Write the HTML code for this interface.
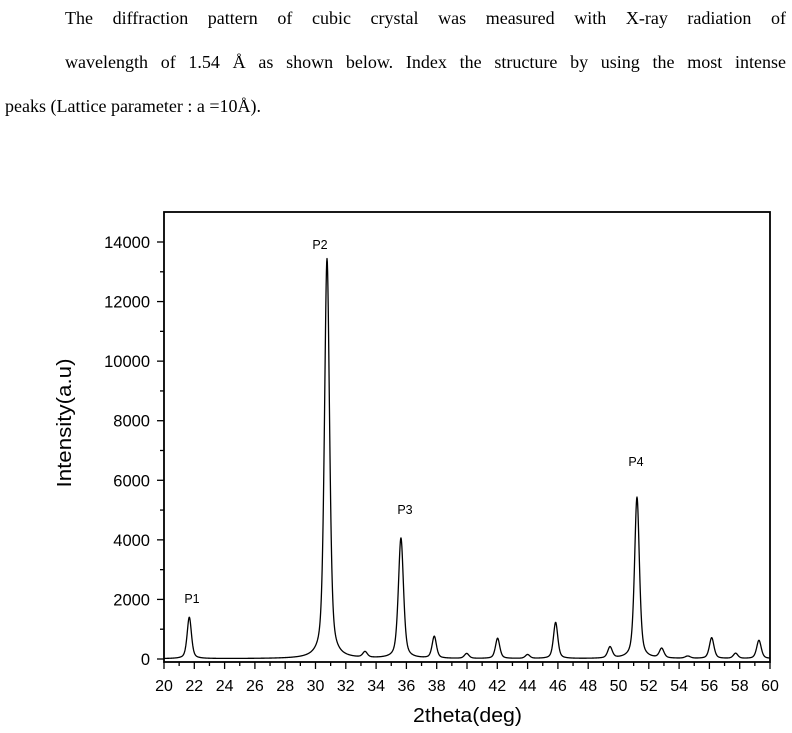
<!DOCTYPE html>
<html>
<head>
<meta charset="utf-8">
<style>
  html,body{margin:0;padding:0;background:#fff;}
  body{width:792px;height:733px;position:relative;overflow:hidden;}
  .ln{position:absolute;font-family:"Liberation Serif",serif;font-size:18px;color:#000;white-space:nowrap;line-height:18px;}
  .j{text-align:justify;text-align-last:justify;white-space:normal;}
  svg{position:absolute;left:0;top:0;}
</style>
</head>
<body>
<div class="ln j" style="left:65px;top:9px;width:721px;">The diffraction pattern of cubic crystal was measured with X-ray radiation of</div>
<div class="ln j" style="left:65px;top:53px;width:721px;">wavelength of 1.54 Å as shown below. Index the structure by using the most intense</div>
<div class="ln" style="left:5px;top:97px;">peaks (Lattice parameter : a =10Å).</div>

<svg width="792" height="733" viewBox="0 0 792 733" xmlns="http://www.w3.org/2000/svg" font-family="Liberation Sans, Arial, sans-serif">
  <defs>
    <clipPath id="pc"><rect x="164" y="212" width="606" height="450"/></clipPath>
  </defs>
  <g id="ticks" stroke="#000" stroke-width="1.3"></g>
  <g id="labels" fill="#000"></g>
  <path id="curve" d="" fill="none" stroke="#000" stroke-width="1.3" clip-path="url(#pc)" stroke-linejoin="round"/>
  <rect x="164" y="212" width="606" height="450" fill="none" stroke="#000" stroke-width="1.8"/>
  <text x="320" y="249" font-size="12.5" text-anchor="middle">P2</text>
  <text x="192" y="603" font-size="12.5" text-anchor="middle">P1</text>
  <text x="405" y="514" font-size="12.5" text-anchor="middle">P3</text>
  <text x="636" y="466" font-size="12.5" text-anchor="middle">P4</text>
  <text x="467.5" y="722" font-size="20" text-anchor="middle" textLength="109" lengthAdjust="spacingAndGlyphs">2theta(deg)</text>
  <text transform="translate(71,423) rotate(-90)" font-size="20" text-anchor="middle" textLength="129" lengthAdjust="spacingAndGlyphs">Intensity(a.u)</text>
</svg>

<script>
(function(){
  var NS="http://www.w3.org/2000/svg";
  var X0=164, XS=15.15, Y0=659, YS=0.029786;
  function px(t){return X0+(t-20)*XS;}
  function py(i){return Y0-i*YS;}
  var tg=document.getElementById('ticks');
  var lg=document.getElementById('labels');
  function line(x1,y1,x2,y2){var l=document.createElementNS(NS,'line');l.setAttribute('x1',x1);l.setAttribute('y1',y1);l.setAttribute('x2',x2);l.setAttribute('y2',y2);tg.appendChild(l);}
  function txt(x,y,s,anchor,size){var t=document.createElementNS(NS,'text');t.setAttribute('x',x);t.setAttribute('y',y);t.setAttribute('text-anchor',anchor);t.setAttribute('font-size',size);t.textContent=s;lg.appendChild(t);}
  for(var t=20;t<=60;t++){
    var x=px(t);
    if(t%2===0){line(x,662,x,669);txt(x,691,String(t),'middle',16);}
    else line(x,662,x,666);
  }
  for(var v=0;v<=14000;v+=1000){
    var y=py(v);
    if(v%2000===0){line(157,y,164,y);txt(150,y+6,String(v),'end',16.5);}
    else line(160,y,164,y);
  }
  var peaks=[[21.67,1390,0.17],[30.76,13430,0.2],[33.27,190,0.18],[35.64,4040,0.2],[37.84,735,0.17],[39.98,165,0.18],[42.02,680,0.17],[44.0,130,0.18],[45.85,1215,0.17],[49.44,375,0.18],[51.22,5420,0.19],[52.85,320,0.18],[54.57,75,0.21],[56.15,700,0.18],[57.73,175,0.18],[59.27,615,0.18]];
  var eta=0.5, ln2=Math.log(2);
  var d=[];
  for(var k=0;k<=2000;k++){
    var tt=20+k*0.02, I=10;
    for(var p=0;p<peaks.length;p++){
      var q=(tt-peaks[p][0])/peaks[p][2], q2=q*q;
      I+=peaks[p][1]*(eta/(1+q2)+(1-eta)*Math.exp(-ln2*q2));
    }
    d.push((k?'L':'M')+px(tt).toFixed(2)+' '+py(I).toFixed(2));
  }
  document.getElementById('curve').setAttribute('d',d.join(''));
})();
</script>
</body>
</html>
